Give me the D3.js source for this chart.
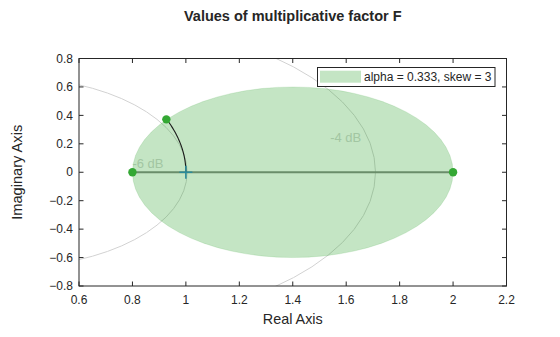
<!DOCTYPE html>
<html><head><meta charset="utf-8">
<script src="https://cdn.jsdelivr.net/npm/d3@7"></script>
<style>
html,body{margin:0;padding:0;background:#fff;}
text{font-family:"Liberation Sans",Arial,Helvetica,sans-serif;fill:#262626;}
</style></head>
<body><svg id="chart" width="560" height="337"></svg>
<script>
// ---- data ----
const title = "Values of multiplicative factor F";
const xLabel = "Real Axis";
const yLabel = "Imaginary Axis";
const xTicks = [0.6, 0.8, 1, 1.2, 1.4, 1.6, 1.8, 2, 2.2];
const yTicks = [-0.8, -0.6, -0.4, -0.2, 0, 0.2, 0.4, 0.6, 0.8];
const xDomain = [0.6, 2.2];
const yDomain = [-0.8, 0.8];
// region of F values (ellipse): centre and radii
const regionCenter = [1.4, 0];
const regionRadii = [0.6, 0.6];
const legendLabel = "alpha = 0.333, skew = 3";
// constant-magnitude circles (dB levels) and label positions
const dbLevels = [-6, -4];
const dbLabelRe = [0.80, 1.54];
const dbLabelIm = [0.03, 0.215];
// endpoints / extreme points
const pointsRe = [0.8, 2.0, 0.927];
const pointsIm = [0, 0, 0.372];
const segRe = [0.8, 2.0];
const segIm = [0, 0];
const unityRe = 1, unityIm = 0;
const arcPhaseDeg = [0, 21.9]; // unit magnitude arc

// ---- layout ----
const svg = d3.select("#chart");
const L = 79, R = 506.5, T = 58.5, B = 286;
const x = d3.scaleLinear().domain(xDomain).range([L, R]);
const y = d3.scaleLinear().domain(yDomain).range([B, T]);

svg.append("defs").append("clipPath").attr("id","clip")
  .append("rect").attr("x",L).attr("y",T).attr("width",R-L).attr("height",B-T);
const plot = svg.append("g").attr("clip-path","url(#clip)");

// M-circles |F/(1+F)| = M
dbLevels.forEach(db => {
  const M = Math.pow(10, db/20);
  const c = M*M/(1-M*M), r = M/(1-M*M);
  plot.append("ellipse")
    .attr("cx", x(c)).attr("cy", y(0))
    .attr("rx", x(c+r)-x(c)).attr("ry", y(0)-y(r))
    .attr("fill","none").attr("stroke","#d2d2d2").attr("stroke-width",1);
});

// region ellipse
plot.append("ellipse")
  .attr("cx", x(regionCenter[0])).attr("cy", y(regionCenter[1]))
  .attr("rx", x(regionCenter[0]+regionRadii[0]) - x(regionCenter[0]))
  .attr("ry", y(0) - y(regionRadii[1]))
  .attr("fill","#2ca02c").attr("fill-opacity",0.28)
  .attr("stroke","#2ca02c").attr("stroke-opacity",0.12).attr("stroke-width",1);

// dB labels
dbLevels.forEach((db,i) => {
  plot.append("text").attr("x", x(dbLabelRe[i])).attr("y", y(dbLabelIm[i]))
    .attr("font-size", 13).style("fill","#a2c6a2").text(db + " dB");
});

// segment between extreme real values
plot.append("line")
  .attr("x1", x(segRe[0])).attr("y1", y(segIm[0]))
  .attr("x2", x(segRe[1])).attr("y2", y(segIm[1]))
  .attr("stroke","#6a8d6a").attr("stroke-width",2);

// unit-magnitude arc
const arcPts = d3.range(0, 41).map(k => {
  const a = (arcPhaseDeg[0] + (arcPhaseDeg[1]-arcPhaseDeg[0])*k/40) * Math.PI/180;
  return [Math.cos(a), Math.sin(a)];
});
plot.append("path").datum(arcPts)
  .attr("d", d3.line().x(d=>x(d[0])).y(d=>y(d[1])))
  .attr("fill","none").attr("stroke","#1a1a1a").attr("stroke-width",1.1);

// unity marker (+)
const ux = x(unityRe), uy = y(unityIm), s = 6.5;
plot.append("path")
  .attr("d", `M${ux-s},${uy}H${ux+s}M${ux},${uy-s}V${uy+s}`)
  .attr("stroke","#2b8a99").attr("stroke-width",1.6).attr("fill","none");

// points
plot.selectAll("circle.pt").data(pointsRe.map((r,i)=>[r,pointsIm[i]])).enter()
  .append("circle").attr("class","pt")
  .attr("cx", d=>x(d[0])).attr("cy", d=>y(d[1])).attr("r", 4.2)
  .attr("fill","#34a834");

// ---- axes box with inward ticks ----
const tl = 4.5;
const ax = svg.append("g");
ax.append("rect").attr("x",L).attr("y",T).attr("width",R-L).attr("height",B-T)
  .attr("fill","none").attr("stroke","#262626").attr("stroke-width",1);
xTicks.forEach(t => {
  ax.append("line").attr("x1",x(t)).attr("x2",x(t)).attr("y1",B).attr("y2",B-tl).attr("stroke","#262626");
  ax.append("line").attr("x1",x(t)).attr("x2",x(t)).attr("y1",T).attr("y2",T+tl).attr("stroke","#262626");
  ax.append("text").attr("x",x(t)).attr("y",304).attr("text-anchor","middle")
    .attr("font-size",12).text(d3.format("~g")(t));
});
yTicks.forEach(t => {
  ax.append("line").attr("y1",y(t)).attr("y2",y(t)).attr("x1",L).attr("x2",L+tl).attr("stroke","#262626");
  ax.append("line").attr("y1",y(t)).attr("y2",y(t)).attr("x1",R).attr("x2",R-tl).attr("stroke","#262626");
  ax.append("text").attr("x",73).attr("y",y(t)).attr("dy","0.35em").attr("text-anchor","end")
    .attr("font-size",12).text(d3.format("~g")(t));
});

// titles
svg.append("text").attr("x",(L+R)/2).attr("y",21).attr("text-anchor","middle")
  .attr("font-size",14.5).attr("font-weight","bold").text(title);
svg.append("text").attr("x",(L+R)/2).attr("y",324).attr("text-anchor","middle")
  .attr("font-size",14.4).text(xLabel);
svg.append("text").attr("transform",`translate(22,${(T+B)/2}) rotate(-90)`)
  .attr("text-anchor","middle").attr("font-size",14.6).text(yLabel);

// legend
const lg = svg.append("g");
lg.append("rect").attr("x",317.5).attr("y",67.5).attr("width",177.5).attr("height",19)
  .attr("fill","#fff").attr("stroke","#262626").attr("stroke-width",1);
lg.append("rect").attr("x",320).attr("y",70.7).attr("width",41).attr("height",12)
  .attr("fill","#2ca02c").attr("fill-opacity",0.28);
lg.append("text").attr("x",364).attr("y",81.3).attr("font-size",12).text(legendLabel);
</script></body></html>
